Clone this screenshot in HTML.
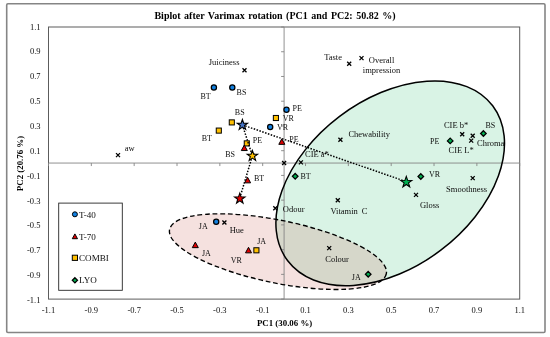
<!DOCTYPE html><html><head><meta charset="utf-8"><title>Biplot</title>
<style>html,body{margin:0;padding:0;background:#fff}svg{display:block}text{font-family:"Liberation Serif","Times New Roman",serif;font-size:8.5px;fill:#0d0d0d}.b{font-weight:bold;fill:#000}</style></head><body>
<svg width="550" height="337" viewBox="0 0 550 337">
<rect x="0" y="0" width="550" height="337" fill="#fff"/>
<rect x="6.7" y="3.8" width="538.3" height="328.7" rx="1.2" fill="#fff" stroke="#858585" stroke-width="1.6"/>
<rect x="48.5" y="27.0" width="471.20000000000005" height="272.1" fill="#fff" stroke="#5c5c5c" stroke-width="1"/>
<ellipse cx="277.95" cy="251.65" rx="110.6" ry="31.35" transform="rotate(11.53 277.95 251.65)" fill="#f5e1df" fill-opacity="1" stroke="none"/>
<ellipse cx="390.2" cy="183.3" rx="128.5" ry="83.9" transform="rotate(-37.1 390.2 183.3)" fill="#d9f3e5" stroke="none"/>
<clipPath id="cg"><ellipse cx="390.2" cy="183.3" rx="128.5" ry="83.9" transform="rotate(-37.1 390.2 183.3)"/></clipPath>
<g clip-path="url(#cg)"><ellipse cx="277.95" cy="251.65" rx="110.6" ry="31.35" transform="rotate(11.53 277.95 251.65)" fill="#d6d7ca"/></g>
<g stroke="#858585" stroke-width="0.9" fill="none">
<line x1="48.5" y1="163.05" x2="519.7" y2="163.05"/>
<line x1="284.1" y1="27.0" x2="284.1" y2="299.1"/>
<line x1="48.50" y1="163.05" x2="48.50" y2="166.05"/>
<line x1="281.1" y1="27.00" x2="284.1" y2="27.00"/>
<line x1="91.34" y1="163.05" x2="91.34" y2="166.05"/>
<line x1="281.1" y1="51.74" x2="284.1" y2="51.74"/>
<line x1="134.17" y1="163.05" x2="134.17" y2="166.05"/>
<line x1="281.1" y1="76.47" x2="284.1" y2="76.47"/>
<line x1="177.01" y1="163.05" x2="177.01" y2="166.05"/>
<line x1="281.1" y1="101.21" x2="284.1" y2="101.21"/>
<line x1="219.85" y1="163.05" x2="219.85" y2="166.05"/>
<line x1="281.1" y1="125.95" x2="284.1" y2="125.95"/>
<line x1="262.68" y1="163.05" x2="262.68" y2="166.05"/>
<line x1="281.1" y1="150.68" x2="284.1" y2="150.68"/>
<line x1="305.52" y1="163.05" x2="305.52" y2="166.05"/>
<line x1="281.1" y1="175.42" x2="284.1" y2="175.42"/>
<line x1="348.35" y1="163.05" x2="348.35" y2="166.05"/>
<line x1="281.1" y1="200.15" x2="284.1" y2="200.15"/>
<line x1="391.19" y1="163.05" x2="391.19" y2="166.05"/>
<line x1="281.1" y1="224.89" x2="284.1" y2="224.89"/>
<line x1="434.03" y1="163.05" x2="434.03" y2="166.05"/>
<line x1="281.1" y1="249.63" x2="284.1" y2="249.63"/>
<line x1="476.86" y1="163.05" x2="476.86" y2="166.05"/>
<line x1="281.1" y1="274.36" x2="284.1" y2="274.36"/>
<line x1="519.70" y1="163.05" x2="519.70" y2="166.05"/>
<line x1="281.1" y1="299.10" x2="284.1" y2="299.10"/>
</g>
<ellipse cx="390.2" cy="183.3" rx="128.5" ry="83.9" transform="rotate(-37.1 390.2 183.3)" fill="none" stroke="#000" stroke-width="1.5"/>
<ellipse cx="277.95" cy="251.65" rx="110.6" ry="31.35" transform="rotate(11.53 277.95 251.65)" fill="none" stroke="#000" stroke-width="1.35" stroke-dasharray="4.8 2.8"/>
<text x="48.50" y="313.10" text-anchor="middle">-1.1</text>
<text x="40.5" y="302.90" text-anchor="end">-1.1</text>
<text x="91.34" y="313.10" text-anchor="middle">-0.9</text>
<text x="40.5" y="278.05" text-anchor="end">-0.9</text>
<text x="134.17" y="313.10" text-anchor="middle">-0.7</text>
<text x="40.5" y="253.21" text-anchor="end">-0.7</text>
<text x="177.01" y="313.10" text-anchor="middle">-0.5</text>
<text x="40.5" y="228.36" text-anchor="end">-0.5</text>
<text x="219.85" y="313.10" text-anchor="middle">-0.3</text>
<text x="40.5" y="203.52" text-anchor="end">-0.3</text>
<text x="262.68" y="313.10" text-anchor="middle">-0.1</text>
<text x="40.5" y="178.67" text-anchor="end">-0.1</text>
<text x="305.52" y="313.10" text-anchor="middle">0.1</text>
<text x="40.5" y="153.83" text-anchor="end">0.1</text>
<text x="348.35" y="313.10" text-anchor="middle">0.3</text>
<text x="40.5" y="128.98" text-anchor="end">0.3</text>
<text x="391.19" y="313.10" text-anchor="middle">0.5</text>
<text x="40.5" y="104.14" text-anchor="end">0.5</text>
<text x="434.03" y="313.10" text-anchor="middle">0.7</text>
<text x="40.5" y="79.29" text-anchor="end">0.7</text>
<text x="476.86" y="313.10" text-anchor="middle">0.9</text>
<text x="40.5" y="54.45" text-anchor="end">0.9</text>
<text x="519.70" y="313.10" text-anchor="middle">1.1</text>
<text x="40.5" y="29.60" text-anchor="end">1.1</text>
<text class="b" x="275" y="18.7" text-anchor="middle" style="font-size:10px;word-spacing:1.05px">Biplot after Varimax rotation (PC1 and PC2: 50.82 %)</text>
<text class="b" x="284.6" y="325.6" text-anchor="middle" style="font-size:8.86px">PC1 (30.06 %)</text>
<text class="b" transform="translate(22.8 163.5) rotate(-90)" text-anchor="middle" style="font-size:8.86px">PC2 (20.76 %)</text>
<path d="M116.00 153.10L120.00 157.10M116.00 157.10L120.00 153.10" stroke="#000" stroke-width="1.3" fill="none"/>
<path d="M242.50 68.30L246.50 72.30M242.50 72.30L246.50 68.30" stroke="#000" stroke-width="1.3" fill="none"/>
<path d="M347.20 61.70L351.20 65.70M347.20 65.70L351.20 61.70" stroke="#000" stroke-width="1.3" fill="none"/>
<path d="M359.50 56.10L363.50 60.10M359.50 60.10L363.50 56.10" stroke="#000" stroke-width="1.3" fill="none"/>
<path d="M338.40 137.80L342.40 141.80M338.40 141.80L342.40 137.80" stroke="#000" stroke-width="1.3" fill="none"/>
<path d="M298.90 160.40L302.90 164.40M298.90 164.40L302.90 160.40" stroke="#000" stroke-width="1.3" fill="none"/>
<path d="M282.10 161.00L286.10 165.00M282.10 165.00L286.10 161.00" stroke="#000" stroke-width="1.3" fill="none"/>
<path d="M460.20 132.20L464.20 136.20M460.20 136.20L464.20 132.20" stroke="#000" stroke-width="1.3" fill="none"/>
<path d="M470.70 133.80L474.70 137.80M470.70 137.80L474.70 133.80" stroke="#000" stroke-width="1.3" fill="none"/>
<path d="M469.20 138.60L473.20 142.60M469.20 142.60L473.20 138.60" stroke="#000" stroke-width="1.3" fill="none"/>
<path d="M470.70 176.10L474.70 180.10M470.70 180.10L474.70 176.10" stroke="#000" stroke-width="1.3" fill="none"/>
<path d="M414.00 192.90L418.00 196.90M414.00 196.90L418.00 192.90" stroke="#000" stroke-width="1.3" fill="none"/>
<path d="M335.80 198.20L339.80 202.20M335.80 202.20L339.80 198.20" stroke="#000" stroke-width="1.3" fill="none"/>
<path d="M273.30 206.20L277.30 210.20M273.30 210.20L277.30 206.20" stroke="#000" stroke-width="1.3" fill="none"/>
<path d="M222.40 220.50L226.40 224.50M222.40 224.50L226.40 220.50" stroke="#000" stroke-width="1.3" fill="none"/>
<path d="M327.20 246.10L331.20 250.10M327.20 250.10L331.20 246.10" stroke="#000" stroke-width="1.3" fill="none"/>
<text x="124.70" y="151.10" text-anchor="start">aw</text>
<text x="208.80" y="64.50" text-anchor="start">Juiciness</text>
<text x="324.20" y="59.90" text-anchor="start">Taste</text>
<text x="381.50" y="62.70" text-anchor="middle">Overall</text>
<text x="381.50" y="73.40" text-anchor="middle">impression</text>
<text x="348.40" y="136.70" text-anchor="start">Chewability</text>
<text x="305.00" y="157.20" text-anchor="start">CIE a*</text>
<text x="443.90" y="127.60" text-anchor="start">CIE b*</text>
<text x="477.00" y="146.00" text-anchor="start">Chroma</text>
<text x="448.50" y="153.10" text-anchor="start">CIE L*</text>
<text x="446.10" y="191.60" text-anchor="start">Smoothness</text>
<text x="419.90" y="208.00" text-anchor="start">Gloss</text>
<text x="330.4" y="213.7" style="word-spacing:1.9px">Vitamin C</text>
<text x="282.80" y="212.40" text-anchor="start">Odour</text>
<text x="229.70" y="232.90" text-anchor="start">Hue</text>
<text x="325.30" y="261.70" text-anchor="start">Colour</text>
<circle cx="213.90" cy="87.40" r="2.60" fill="#1280e0" stroke="#000" stroke-width="1.25"/>
<text x="200.40" y="99.25" style="font-size:8px">BT</text>
<circle cx="232.30" cy="87.40" r="2.60" fill="#1280e0" stroke="#000" stroke-width="1.25"/>
<text x="236.60" y="94.75" style="font-size:8px">BS</text>
<circle cx="286.50" cy="109.80" r="2.60" fill="#1280e0" stroke="#000" stroke-width="1.25"/>
<text x="292.50" y="110.95" style="font-size:8px">PE</text>
<circle cx="270.20" cy="127.00" r="2.60" fill="#1280e0" stroke="#000" stroke-width="1.25"/>
<text x="276.90" y="130.25" style="font-size:8px">VR</text>
<circle cx="216.20" cy="221.80" r="2.60" fill="#1280e0" stroke="#000" stroke-width="1.25"/>
<text x="198.80" y="228.95" style="font-size:8px">JA</text>
<rect x="273.35" y="115.45" width="5.10" height="5.10" fill="#ffc000" stroke="#000" stroke-width="1"/>
<text x="282.80" y="121.25" style="font-size:8px">VR</text>
<rect x="229.25" y="119.85" width="5.10" height="5.10" fill="#ffc000" stroke="#000" stroke-width="1"/>
<text x="234.80" y="115.45" style="font-size:8px">BS</text>
<rect x="216.25" y="128.05" width="5.10" height="5.10" fill="#ffc000" stroke="#000" stroke-width="1"/>
<text x="201.70" y="141.25" style="font-size:8px">BT</text>
<rect x="244.25" y="140.85" width="5.10" height="5.10" fill="#ffc000" stroke="#000" stroke-width="1"/>
<text x="252.70" y="143.35" style="font-size:8px">PE</text>
<rect x="253.85" y="247.75" width="5.10" height="5.10" fill="#ffc000" stroke="#000" stroke-width="1"/>
<text x="257.20" y="244.15" style="font-size:8px">JA</text>
<path d="M244.30 145.00L247.30 150.55L241.30 150.55Z" fill="#e00000" stroke="#000" stroke-width="1" stroke-linejoin="miter"/>
<text x="225.20" y="157.25" style="font-size:8px">BS</text>
<path d="M281.80 138.80L284.80 144.35L278.80 144.35Z" fill="#e00000" stroke="#000" stroke-width="1" stroke-linejoin="miter"/>
<text x="289.20" y="142.45" style="font-size:8px">PE</text>
<path d="M247.60 177.30L250.60 182.85L244.60 182.85Z" fill="#e00000" stroke="#000" stroke-width="1" stroke-linejoin="miter"/>
<text x="254.00" y="180.75" style="font-size:8px">BT</text>
<path d="M195.30 242.10L198.30 247.65L192.30 247.65Z" fill="#e00000" stroke="#000" stroke-width="1" stroke-linejoin="miter"/>
<text x="202.00" y="255.85" style="font-size:8px">JA</text>
<path d="M248.50 247.30L251.50 252.85L245.50 252.85Z" fill="#e00000" stroke="#000" stroke-width="1" stroke-linejoin="miter"/>
<text x="230.80" y="262.55" style="font-size:8px">VR</text>
<path d="M295.20 173.50L298.00 176.30L295.20 179.10L292.40 176.30Z" fill="#00b050" stroke="#000" stroke-width="1.25"/>
<text x="300.40" y="179.45" style="font-size:8px">BT</text>
<path d="M483.40 130.70L486.20 133.50L483.40 136.30L480.60 133.50Z" fill="#00b050" stroke="#000" stroke-width="1.25"/>
<text x="485.40" y="127.75" style="font-size:8px">BS</text>
<path d="M450.20 138.10L453.00 140.90L450.20 143.70L447.40 140.90Z" fill="#00b050" stroke="#000" stroke-width="1.25"/>
<text x="430.10" y="144.35" style="font-size:8px">PE</text>
<path d="M420.80 173.70L423.60 176.50L420.80 179.30L418.00 176.50Z" fill="#00b050" stroke="#000" stroke-width="1.25"/>
<text x="429.00" y="177.45" style="font-size:8px">VR</text>
<path d="M368.20 271.40L371.00 274.20L368.20 277.00L365.40 274.20Z" fill="#00b050" stroke="#000" stroke-width="1.25"/>
<text x="351.80" y="280.15" style="font-size:8px">JA</text>
<g stroke="#000" stroke-width="1.5" stroke-dasharray="1.5 1.5" fill="none">
<line x1="242.4" y1="124.9" x2="406.8" y2="181.8"/>
<polyline points="242.4,124.9 252.4,155.9 239.7,198.3"/>
</g>
<polygon points="242.40,119.40 243.69,123.12 247.63,123.20 244.49,125.58 245.63,129.35 242.40,127.10 239.17,129.35 240.31,125.58 237.17,123.20 241.11,123.12" fill="#4472c4" stroke="#000" stroke-width="1.1" stroke-linejoin="miter" stroke-miterlimit="10"/>
<polygon points="252.40,150.40 253.69,154.12 257.63,154.20 254.49,156.58 255.63,160.35 252.40,158.10 249.17,160.35 250.31,156.58 247.17,154.20 251.11,154.12" fill="#ffc000" stroke="#000" stroke-width="1.1" stroke-linejoin="miter" stroke-miterlimit="10"/>
<polygon points="239.80,193.10 241.09,196.82 245.03,196.90 241.89,199.28 243.03,203.05 239.80,200.80 236.57,203.05 237.71,199.28 234.57,196.90 238.51,196.82" fill="#e00000" stroke="#000" stroke-width="1.1" stroke-linejoin="miter" stroke-miterlimit="10"/>
<polygon points="406.30,176.40 407.66,180.32 411.82,180.41 408.51,182.92 409.71,186.89 406.30,184.52 402.89,186.89 404.09,182.92 400.78,180.41 404.94,180.32" fill="#00b050" stroke="#000" stroke-width="1.1" stroke-linejoin="miter" stroke-miterlimit="10"/>
<rect x="58.7" y="203.1" width="63.6" height="87.2" fill="#fff" stroke="#262626" stroke-width="0.9"/>
<circle cx="74.90" cy="214.30" r="2.50" fill="#1280e0" stroke="#000" stroke-width="1.0"/>
<text x="79.00" y="217.50" style="font-size:9.1px">T-40</text>
<path d="M74.90 233.90L77.50 238.71L72.30 238.71Z" fill="#e00000" stroke="#000" stroke-width="1" stroke-linejoin="miter"/>
<text x="79.00" y="239.70" style="font-size:9.1px">T-70</text>
<rect x="72.30" y="255.20" width="5.20" height="5.20" fill="#ffc000" stroke="#000" stroke-width="1"/>
<text x="79.00" y="261.10" style="font-size:9.1px">COMBI</text>
<path d="M74.90 277.70L77.50 280.30L74.90 282.90L72.30 280.30Z" fill="#00b050" stroke="#000" stroke-width="1.25"/>
<text x="79.00" y="283.30" style="font-size:9.1px">LYO</text>
</svg></body></html>
